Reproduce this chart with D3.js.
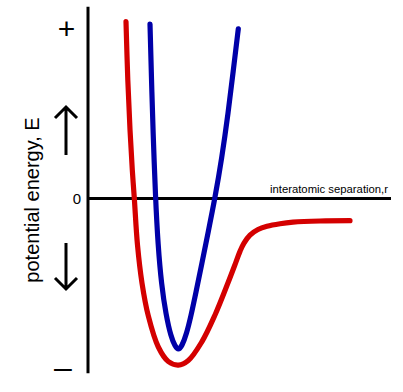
<!DOCTYPE html>
<html><head><meta charset="utf-8">
<script src="https://cdn.jsdelivr.net/npm/d3@7"></script>
<style>html,body{margin:0;padding:0;background:#fff;}svg{display:block;}</style>
</head><body>
<script>
// Data (r in arbitrary units 0..100, E normalised -1..+1)
const redR = [12.25,12.85,13.58,14.34,15.0,16.06,17.55,19.64,22.95,26.26,29.57,32.88,37.32,41.72,46.13,48.68,50.0,51.32,53.31,55.96,58.94,63.25,67.55,76.49,86.42];
const redE = [1.037,0.695,0.402,0.167,0.003,-0.273,-0.496,-0.689,-0.871,-0.956,-0.977,-0.950,-0.842,-0.683,-0.490,-0.372,-0.310,-0.262,-0.215,-0.182,-0.163,-0.148,-0.139,-0.132,-0.130];
const blueR = [20.2,20.7,21.19,22.02,22.85,24.0,25.5,27.15,28.48,29.57,30.79,32.28,33.77,35.43,37.32,39.5,41.72,43.94,46.13,47.78,49.44];
const blueE = [1.023,0.695,0.402,0.003,-0.273,-0.507,-0.683,-0.812,-0.865,-0.891,-0.865,-0.795,-0.689,-0.550,-0.386,-0.194,0.003,0.232,0.508,0.751,0.995];
const yTickValues = [1, 0, -1];
const yTickLabels = ["+", "0", "–"];
const xLabel = "interatomic separation,r";
const yLabel = "potential energy, E";

const W = 403, H = 392;
const svg = d3.select("body").append("svg").attr("width", W).attr("height", H);
const x = d3.scaleLinear().domain([0, 100]).range([89, 391]);
const y = d3.scaleLinear().domain([-1, 1]).range([369, 28]);

// axes
svg.append("line").attr("x1", 88).attr("x2", 88).attr("y1", y(1.125)).attr("y2", y(-1.025))
  .attr("stroke", "#000").attr("stroke-width", 3);
svg.append("line").attr("x1", 87).attr("x2", x(100)).attr("y1", y(0)).attr("y2", y(0))
  .attr("stroke", "#000").attr("stroke-width", 3.2);

const redLine = d3.line().x(d => x(d[0])).y(d => y(d[1])).curve(d3.curveCatmullRom.alpha(0.5));
const blueLine = d3.line().x(d => x(d[0])).y(d => y(d[1])).curve(d3.curveBasis);
svg.append("path").attr("d", redLine(redR.map((r, i) => [r, redE[i]])))
  .attr("fill", "none").attr("stroke", "#d40000").attr("stroke-width", 5.2)
  .attr("stroke-linecap", "round").attr("stroke-linejoin", "round");
svg.append("path").attr("d", blueLine(blueR.map((r, i) => [r, blueE[i]])))
  .attr("fill", "none").attr("stroke", "#0000a8").attr("stroke-width", 5.2)
  .attr("stroke-linecap", "round").attr("stroke-linejoin", "round");

// tick labels
const font = "'Liberation Sans', Arial, Helvetica, sans-serif";
svg.append("text").attr("x", 66.5).attr("y", y(yTickValues[0]) + 10.5).attr("text-anchor", "middle")
  .attr("font-family", font).attr("font-size", 30).text(yTickLabels[0]);
svg.append("text").attr("x", 77).attr("y", y(yTickValues[1]) + 5.5).attr("text-anchor", "middle")
  .attr("font-family", font).attr("font-size", 15).text(yTickLabels[1]);
svg.append("text").attr("x", 63).attr("y", y(yTickValues[2]) + 8.5).attr("text-anchor", "middle")
  .attr("font-family", font).attr("font-size", 32).text(yTickLabels[2]);

// arrows
const arrow = svg.append("g").attr("stroke", "#000").attr("stroke-width", 3).attr("fill", "none")
  .attr("stroke-linecap", "butt").attr("stroke-linejoin", "miter");
arrow.append("path").attr("d", "M66,155 L66,107 M55,118 L66,107 L77,118");
arrow.append("path").attr("d", "M66,243 L66,289 M55,278 L66,289 L77,278");

// axis titles
svg.append("text").attr("x", 388).attr("y", 193).attr("text-anchor", "end")
  .attr("font-family", font).attr("font-size", 11.3).text(xLabel);
svg.append("text").attr("transform", "translate(39,200) rotate(-90)").attr("text-anchor", "middle")
  .attr("font-family", font).attr("font-size", 20).text(yLabel);
</script>
</body></html>
